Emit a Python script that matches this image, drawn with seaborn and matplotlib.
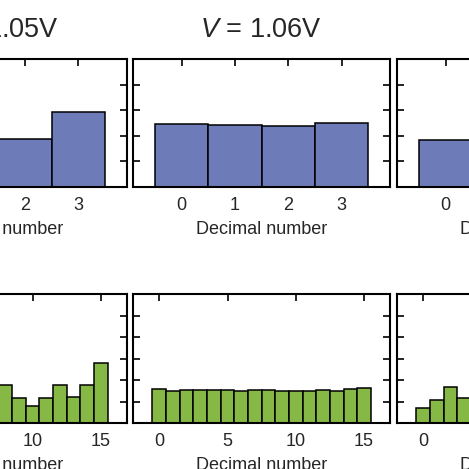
import numpy as np
import pandas as pd
import matplotlib
matplotlib.use("Agg")
import matplotlib.pyplot as plt
import seaborn as sns

# datos (los paneles recortados: valores estimados)
voltages = ["1.05", "1.06", "1.07"]
states_2bit = [0, 1, 2, 3]
states_4bit = list(range(16))

prob_2bit_105 = [0.27, 0.22, 0.189, 0.295]
prob_2bit_106 = [0.245, 0.241, 0.238, 0.249]
prob_2bit_107 = [0.185, 0.23, 0.27, 0.29]

prob_4bit_105 = [0.11, 0.07, 0.047, 0.07, 0.047, 0.031, 0.047, 0.071,
                 0.0707, 0.0471, 0.031, 0.0459, 0.0707, 0.0478, 0.0707, 0.111]
prob_4bit_106 = [0.0633, 0.0601, 0.0614, 0.0614, 0.0614, 0.0608, 0.0595, 0.0617,
                 0.062, 0.0595, 0.059, 0.0601, 0.0614, 0.0601, 0.0633, 0.0657]
prob_4bit_107 = [0.0273, 0.0422, 0.0676, 0.0471, 0.06, 0.08, 0.07, 0.09,
                 0.06, 0.07, 0.05, 0.06, 0.07, 0.06, 0.05, 0.04]

blue = "#6e7bb9"
green = "#86b845"

sns.set_style("ticks")
plt.rcParams['font.family'] = ['Liberation Sans', 'DejaVu Sans']
plt.rcParams['mathtext.fontset'] = 'custom'
plt.rcParams['mathtext.it'] = 'Liberation Sans:italic'
plt.rcParams['mathtext.rm'] = 'Liberation Sans'

fig = plt.figure(figsize=(4.69, 4.69), dpi=100)

W, H = 469.0, 469.0
col_left = [-130.6, 132.7, 396.7]
panel_w = 257.3
row_top = [(59.3, 187.0), (294.0, 423.0)]

top_vals = [prob_2bit_105, prob_2bit_106, prob_2bit_107]
bot_vals = [prob_4bit_105, prob_4bit_106, prob_4bit_107]


def style_axis(ax):
    for s in ax.spines.values():
        s.set_linewidth(1.5)
        s.set_color("black")
    ax.tick_params(direction="in", top=True, right=True, bottom=False,
                   labelleft=False, labelbottom=True, length=5, width=1.2,
                   labelsize=13, pad=7, color="black")
    ax.set_ylabel("")
    ax.set_xlabel("Decimal number", fontsize=13, labelpad=5)


for i, v in enumerate(voltages):
    # fila superior: 2 bits
    t, b = row_top[0]
    ax = fig.add_axes([col_left[i] / W, 1 - b / H, panel_w / W, (b - t) / H])
    df = pd.DataFrame({"state": states_2bit, "p": top_vals[i]})
    sns.barplot(data=df, x="state", y="p", native_scale=True, width=1,
                color=blue, saturation=1, edgecolor="black", linewidth=1.1, ax=ax)
    ax.set_xlim(-0.92, 3.91)
    ax.set_ylim(0, 0.5)
    ax.set_xticks(states_2bit)
    ax.set_yticks(np.arange(0, 0.51, 0.1))
    style_axis(ax)
    ax.set_title(r"$V$ = " + v + "V", fontsize=19.5, pad=16)

    # fila inferior: 4 bits
    t, b = row_top[1]
    ax = fig.add_axes([col_left[i] / W, 1 - b / H, panel_w / W, (b - t) / H])
    df = pd.DataFrame({"state": states_4bit, "p": bot_vals[i]})
    sns.barplot(data=df, x="state", y="p", native_scale=True, width=1,
                color=green, saturation=1, edgecolor="black", linewidth=1.1, ax=ax)
    ax.set_xlim(-1.95, 16.9)
    ax.set_ylim(0, 0.24)
    ax.set_xticks([0, 5, 10, 15])
    ax.set_yticks(np.arange(0, 0.241, 0.04))
    style_axis(ax)

fig.savefig("out.png", dpi=100)
